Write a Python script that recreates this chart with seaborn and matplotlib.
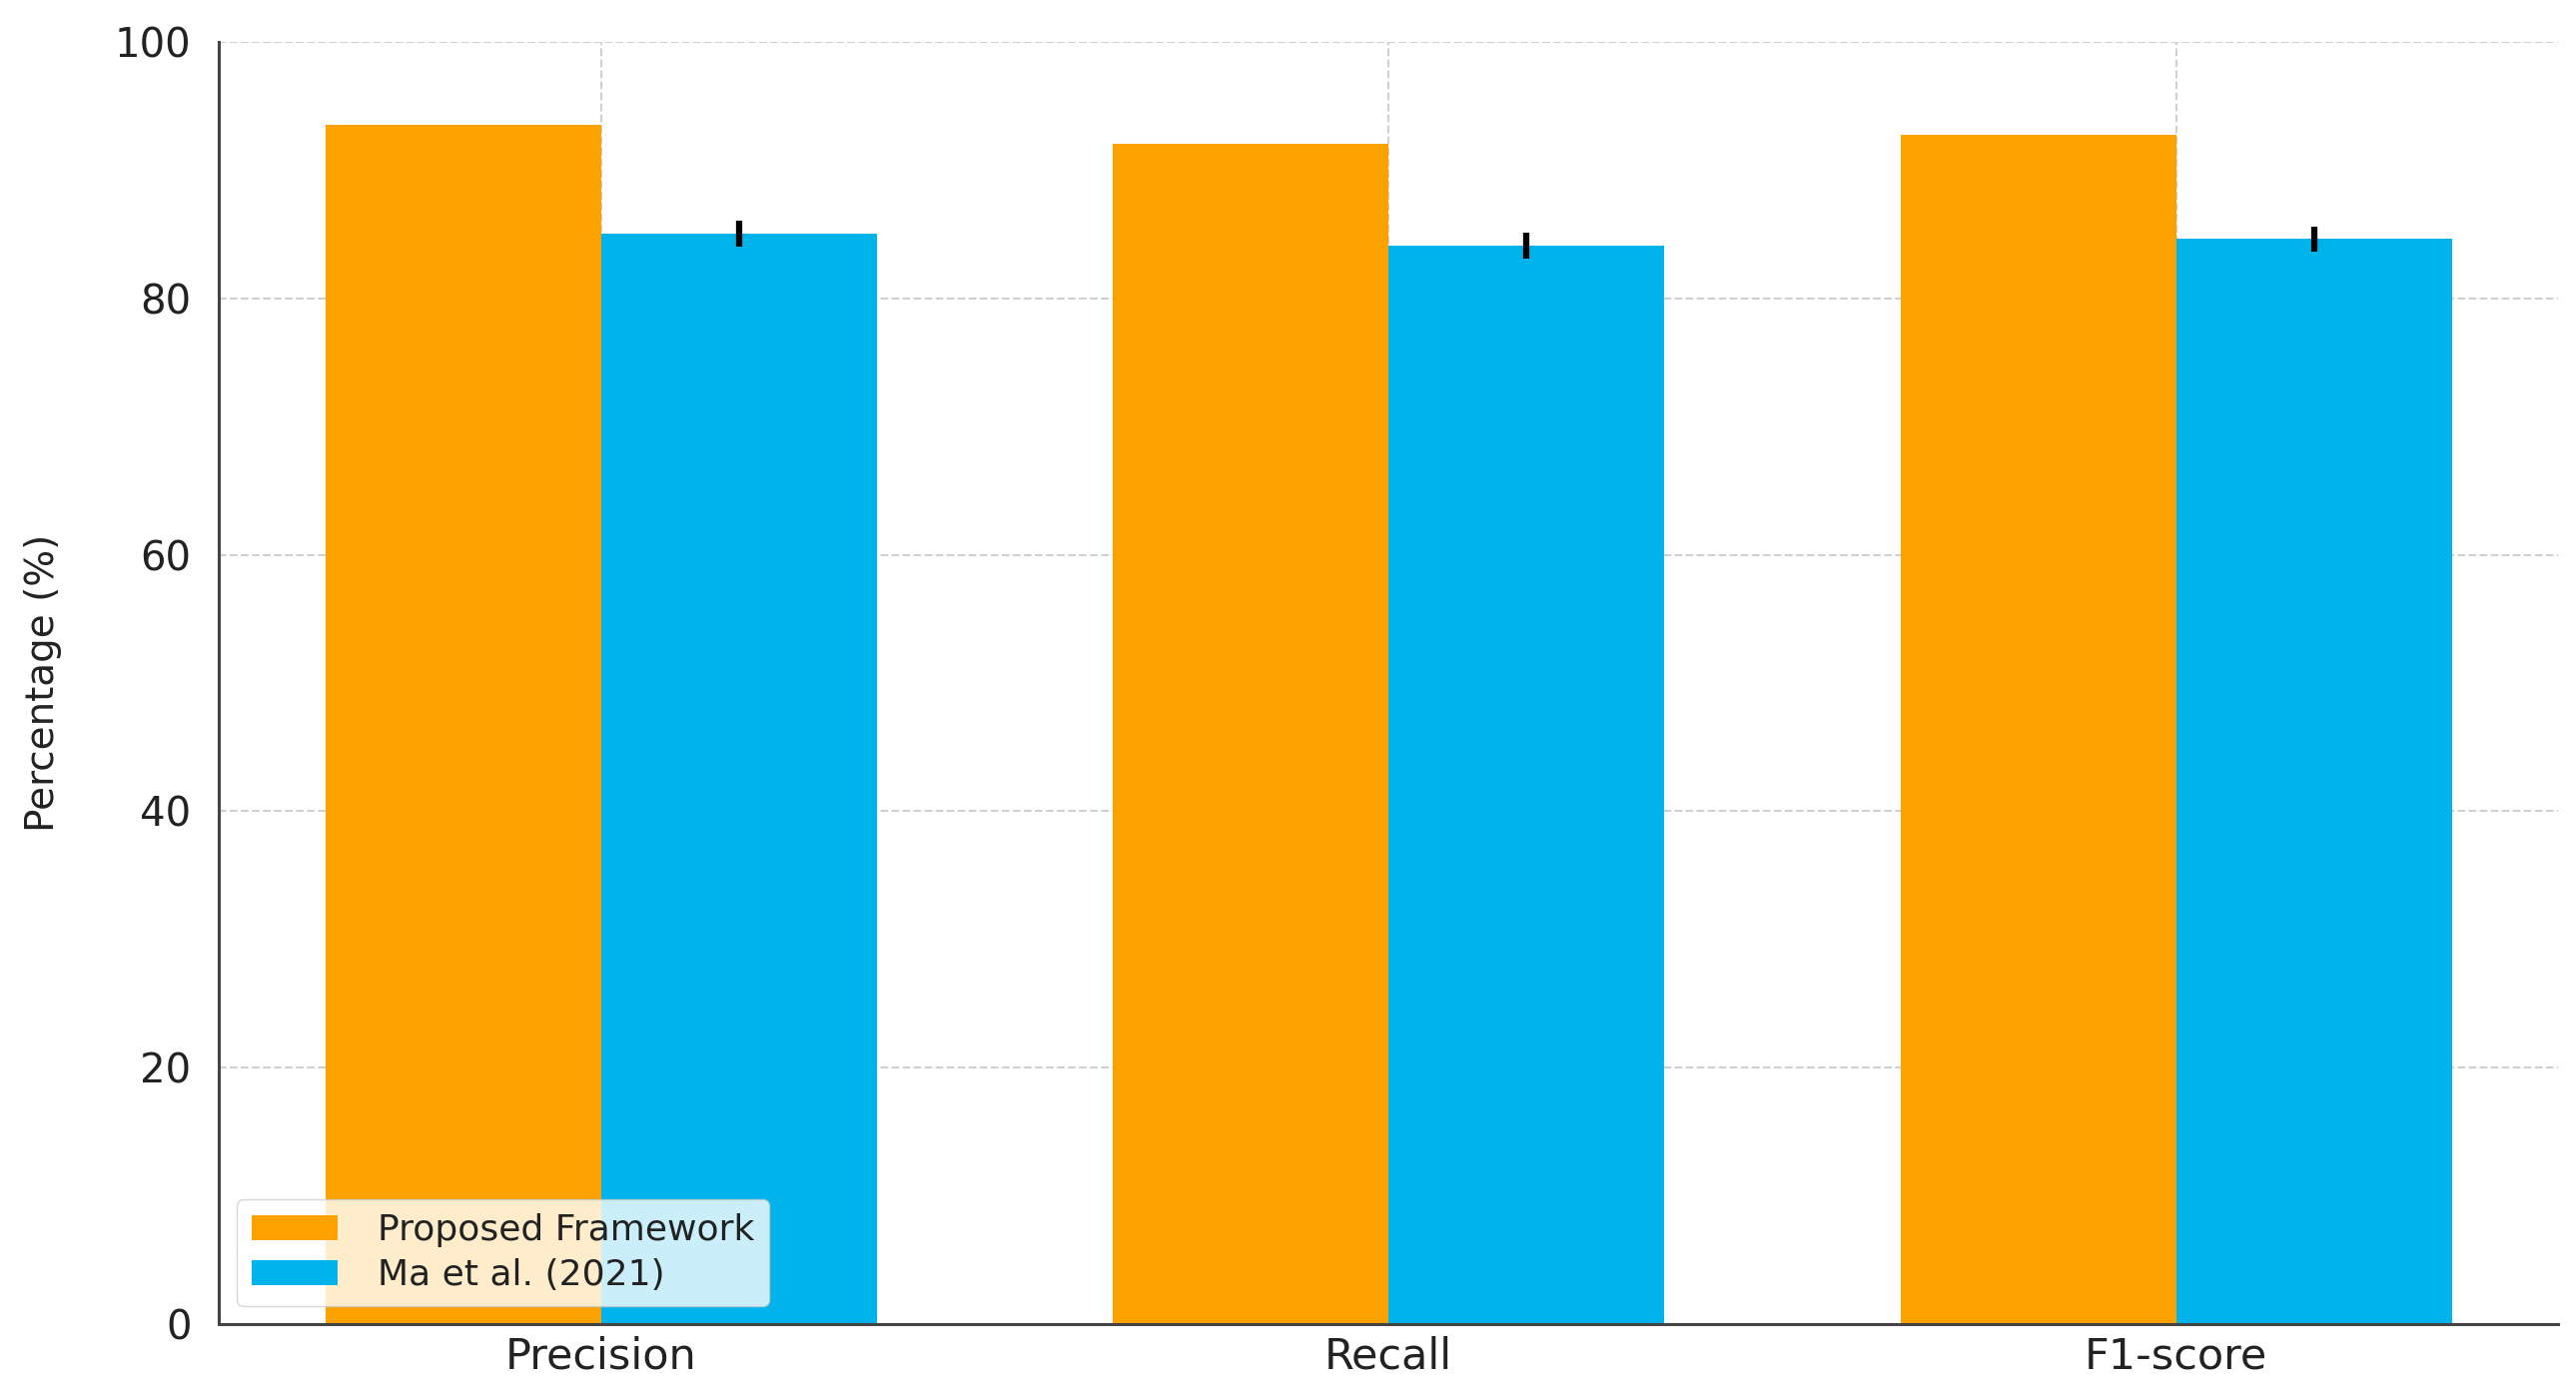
import matplotlib
matplotlib.use('Agg')
import matplotlib.pyplot as plt
import pandas as pd
import seaborn as sns

# values
metrics = ['Precision', 'Recall', 'F1-score']
methods = ['Proposed Framework', 'Ma et al. (2021)']
proposed = [93.5, 92.0, 92.7]
ma_2021 = [85.0, 84.1, 84.6]
ma_err = [1.0, 1.0, 1.0]
colors = ['#FBA200', '#00B4EB']

df = pd.DataFrame({
    'Metric': metrics * 2,
    'Method': [methods[0]] * 3 + [methods[1]] * 3,
    'Value': proposed + ma_2021,
})

sns.set_style('white')
plt.rcParams['font.family'] = ['DejaVu Sans']

fig, ax = plt.subplots(figsize=(25.79, 13.86), dpi=100)
fig.subplots_adjust(left=0.085, right=0.993, top=0.970, bottom=0.043)

sns.barplot(data=df, x='Metric', y='Value', hue='Method', order=metrics,
            hue_order=methods, palette=colors, width=0.7, errorbar=None,
            saturation=1, linewidth=0, ax=ax)

# error bars on the Ma et al. bars, placed at the bar centres seaborn drew
ma_bars = ax.containers[1]
xs = [p.get_x() + p.get_width() / 2 for p in ma_bars]
ax.errorbar(xs, ma_2021, yerr=ma_err, fmt='none', ecolor='black',
            elinewidth=4.5, capsize=0, zorder=5)

ax.set_ylim(0, 100)
ax.set_yticks([0, 20, 40, 60, 80, 100])
ax.set_xlabel('')
ax.set_ylabel('Percentage (%)', fontsize=28, color='#222222', labelpad=38)
ax.tick_params(axis='y', labelsize=29, direction='in', length=9, width=2,
               colors='#444444', labelcolor='#222222', pad=20)
ax.tick_params(axis='x', labelsize=31, direction='in', length=0,
               labelcolor='#222222', pad=8)

ax.grid(True, linestyle='--', color='#d0d0d0', linewidth=1.5)
ax.set_axisbelow(True)
sns.despine(ax=ax)
for side in ['left', 'bottom']:
    ax.spines[side].set_color('#444444')
    ax.spines[side].set_linewidth(2.2)

ax.legend(loc='lower left', fontsize=26, framealpha=0.8, edgecolor='#cccccc',
          handlelength=2.4, handleheight=0.7, handletextpad=1.1,
          labelspacing=0.3, labelcolor='#222222', title=None)

fig.savefig('out.png', dpi=100)
